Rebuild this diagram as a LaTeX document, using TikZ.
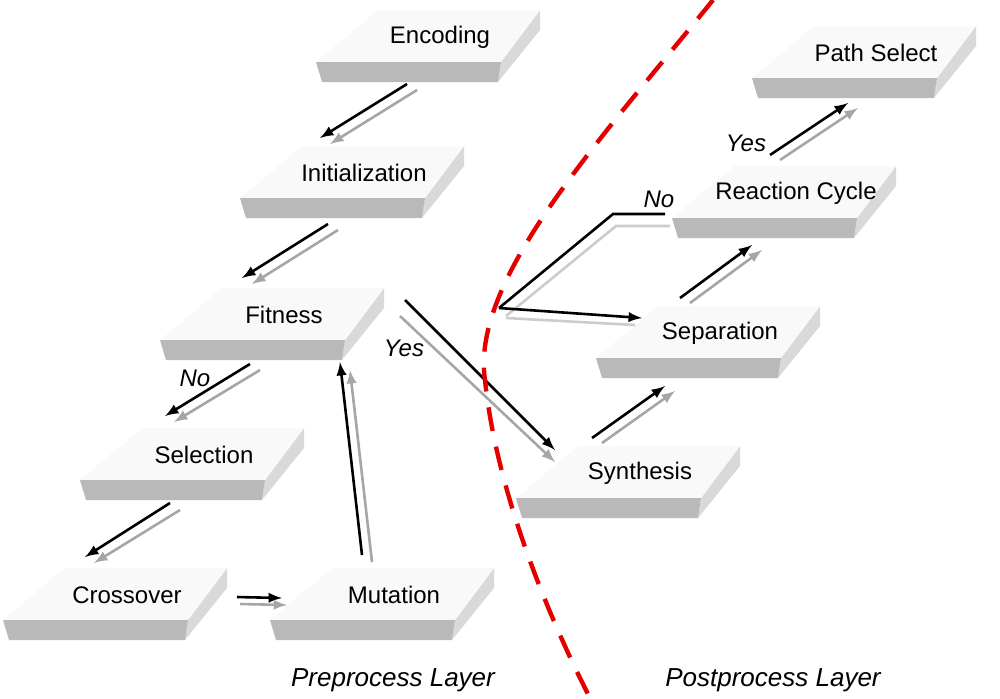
\documentclass[tikz,border=0pt]{standalone}
\usepackage{fontspec}
\setmainfont{Liberation Sans}
\begin{document}
\begin{tikzpicture}[x=0.5pt,y=-0.5pt,
  lbl/.style={font=\fontsize{12}{14}\selectfont},
  itl/.style={font=\fontsize{12}{14}\selectfont\itshape},
  blk/.style={line width=1.3pt,-latex},
  gry/.style={line width=1.3pt,-latex,gray!70},
  top/.style={fill=gray!5,draw=none},
  front/.style={fill=gray!55,draw=none},
  side/.style={fill=gray!30,draw=none}]
\useasboundingbox (0,0) rectangle (1000,698);
\newcommand\slab[4]{%
  \fill[side] (#2+185,#3) -- (#2+224,#3-52) -- (#2+224,#3-32) -- (#2+182,#3+20) -- cycle;
  \fill[top] (#2,#3) -- (#2+185,#3) -- (#2+224,#3-52) -- (#2+62,#3-52) -- cycle;
  \fill[front] (#2,#3) -- (#2+185,#3) -- (#2+182,#3+20) -- (#2+6,#3+20) -- cycle;
  \node[lbl] (#1) at (#2+124,#3-25) {#4};}
\slab{enc}{316}{62}{Encoding}
\slab{ini}{240}{198}{Initialization}
\slab{fit}{160}{340}{Fitness}
\slab{sel}{80}{480}{Selection}
\slab{cro}{3}{620}{Crossover}
\slab{mut}{270}{620}{Mutation}
\slab{syn}{516}{498}{Synthesis}
\slab{sep}{596}{358}{Separation}
\slab{rea}{672}{218}{Reaction Cycle}
\slab{pat}{752}{78}{Path Select}
% arrows
\draw[blk] (407,84) -- (320,138);  \draw[gry] (417,90) -- (330,144);
\draw[blk] (328,224) -- (242,278); \draw[gry] (338,230) -- (252,284);
\draw[blk] (250,364) -- (165,416); \draw[gry] (260,370) -- (174,422);
\draw[blk] (170,503) -- (85,557);  \draw[gry] (180,510) -- (94,563);
\draw[blk] (237,597) -- (282,598); \draw[gry] (240,604) -- (287,605);
\draw[blk] (362,555) -- (340,362); \draw[gry] (372,562) -- (350,370);
\draw[blk] (405,300) -- (555,450); \draw[gry] (400,316) -- (555,462);
\draw[blk] (592,438) -- (665,386); \draw[gry] (602,443) -- (675,391);
\draw[blk] (680,298) -- (752,245); \draw[gry] (690,303) -- (762,250);
\draw[blk] (770,155) -- (848,103); \draw[gry] (780,160) -- (858,108);
\draw[line width=1.3pt] (499,308) -- (613,214) -- (665,214);
\draw[line width=1.3pt,gray!40] (506,316) -- (616,226) -- (670,226);
\draw[line width=1.3pt,gray!40] (506,318) -- (635,325);
\draw[blk] (499,308) -- (642,318);
% labels
\node[itl] at (195,378) {No};
\node[itl] at (404,348) {Yes};
\node[itl] at (659,199) {No};
\node[itl] at (746,143) {Yes};
% boundary
\draw[red!90!black,line width=2.2pt,dash pattern=on 12pt off 8pt]
  (713,0) .. controls (600,140) and (470,280) .. (485,380)
  .. controls (495,480) and (540,600) .. (590,698);
\node[itl,font=\fontsize{13}{15}\selectfont\itshape] at (393,680) {Preprocess Layer};
\node[itl,font=\fontsize{13}{15}\selectfont\itshape] at (773,680) {Postprocess Layer};
\end{tikzpicture}
\end{document}
